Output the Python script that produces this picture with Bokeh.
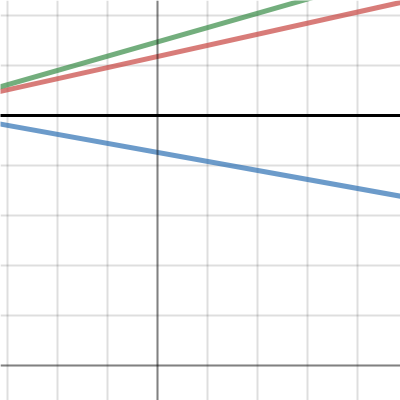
from bokeh.plotting import figure
from bokeh.models import Range1d, SingleIntervalTicker, Span
from bokeh.embed import file_html
from bokeh.resources import INLINE

# line end points (grid unit = 1)
x_ends = [-3.2, 5.0]
red_y = [5.47, 7.29]
green_y = [5.56, 7.90]
blue_y = [4.84, 3.36]
black_y = [5.0, 5.0]

p = figure(width=400, height=400, output_backend="svg", toolbar_location=None,
           x_range=Range1d(-3.14, 4.86), y_range=Range1d(-0.70, 7.30),
           min_border=0, outline_line_color=None)

p.xaxis.visible = False
p.yaxis.visible = False
p.xgrid.ticker = SingleIntervalTicker(interval=1)
p.ygrid.ticker = SingleIntervalTicker(interval=1)
p.grid.grid_line_color = "black"
p.grid.grid_line_alpha = 0.13
p.grid.grid_line_width = 2

# axes through the origin
p.add_layout(Span(location=0, dimension="height", line_color="black",
                  line_alpha=0.42, line_width=2))
p.add_layout(Span(location=0, dimension="width", line_color="black",
                  line_alpha=0.42, line_width=2))

p.line(x_ends, black_y, line_color="black", line_width=3)
p.line(x_ends, blue_y, line_color="#2d70b3", line_alpha=0.7, line_width=5)
p.line(x_ends, red_y, line_color="#c74440", line_alpha=0.7, line_width=5)
p.line(x_ends, green_y, line_color="#388c46", line_alpha=0.7, line_width=5)

open("out.html", "w").write(file_html(p, INLINE))
